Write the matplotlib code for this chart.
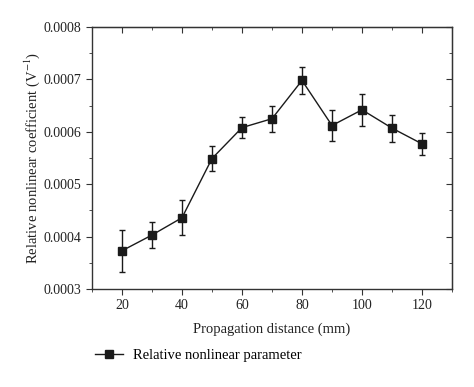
import numpy as np
import matplotlib.pyplot as plt
from matplotlib.ticker import MultipleLocator
from matplotlib.lines import Line2D

# datos
distancia = [20, 30, 40, 50, 60, 70, 80, 90, 100, 110, 120]
coef = [0.000373, 0.000403, 0.000436, 0.000549, 0.000608, 0.000625,
        0.000698, 0.000612, 0.000642, 0.000607, 0.000577]
error = [0.000040, 0.000024, 0.000033, 0.000024, 0.000020, 0.000025,
         0.000025, 0.000030, 0.000030, 0.000026, 0.000021]

plt.rcParams['font.family'] = ['Liberation Serif', 'DejaVu Serif']
plt.rcParams['mathtext.fontset'] = 'stix'

fig = plt.figure(figsize=(4.74, 3.87), dpi=100)
ax = fig.add_axes([92/474, 1-289/387, 360/474, 262/387])

c = '#1a1a1a'
ax.errorbar(distancia, coef, yerr=error, color=c, marker='s', markersize=6,
            linewidth=1.0, elinewidth=1.0, capsize=2.5, capthick=1.0)

ax.set_xlim(10, 130)
ax.set_ylim(0.0003, 0.0008)
ax.xaxis.set_major_locator(MultipleLocator(20))
ax.xaxis.set_minor_locator(MultipleLocator(10))
ax.yaxis.set_major_locator(MultipleLocator(0.0001))
ax.yaxis.set_minor_locator(MultipleLocator(0.00005))
ax.yaxis.set_major_formatter(plt.FuncFormatter(lambda v, p: '%.4f' % v))

for s in ax.spines.values():
    s.set_color('#333333')
    s.set_linewidth(1.0)
ax.tick_params(which='both', direction='out', colors='#333333', labelsize=10,
               labelcolor='#222222')
ax.tick_params(which='major', length=4)
ax.tick_params(which='minor', length=2.5)

# ticks de arriba y derecha hacia adentro
top = ax.secondary_xaxis('top')
top.xaxis.set_major_locator(MultipleLocator(20))
top.xaxis.set_minor_locator(MultipleLocator(10))
top.tick_params(which='both', direction='in', labeltop=False, colors='#333333')
top.tick_params(which='major', length=4)
top.tick_params(which='minor', length=2.5)
right = ax.secondary_yaxis('right')
right.yaxis.set_major_locator(MultipleLocator(0.0001))
right.yaxis.set_minor_locator(MultipleLocator(0.00005))
right.tick_params(which='both', direction='in', labelright=False, colors='#333333')
right.tick_params(which='major', length=4)
right.tick_params(which='minor', length=2.5)

ax.set_xlabel('Propagation distance (mm)', fontsize=10.5, color='#222222', labelpad=7)
ax.set_ylabel('Relative nonlinear coefficient (V$^{-1}$)', fontsize=10.5,
              color='#222222', labelpad=1)

h = Line2D([], [], color=c, marker='s', markersize=6, linewidth=1.0)
ax.legend([h], ['Relative nonlinear parameter'], loc='center left',
          bbox_to_anchor=(-0.028, -0.255), frameon=False,
          fontsize=10.5, handlelength=1.9, handletextpad=0.7)

plt.savefig('out.png', dpi=100)
